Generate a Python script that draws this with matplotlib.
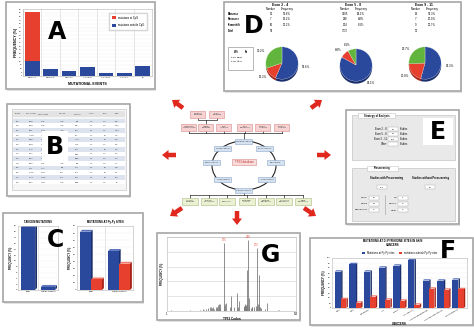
import numpy as np
import matplotlib
matplotlib.use("Agg")
import matplotlib.pyplot as plt
from matplotlib.patches import Rectangle, Polygon, Ellipse, FancyArrow

plt.rcParams["font.family"] = ["Liberation Sans", "DejaVu Sans"]

W, H = 474, 328
BLUE, BLUE_D, BLUE_L = "#2A489C", "#1A2F6C", "#5670BC"
RED, RED_D, RED_L = "#E8402F", "#A82318", "#F27A6C"
GREEN, GREEN_D = "#62B53C", "#3E7F22"
FRAME = "#A6A6A6"
GRID = "#DADADA"
ARROW = "#E0281E"

# ---- panel A: mutational events
events = ["G:C>A:T", "G:C>C:G", "G:C>T:A", "A:T>G:C", "A:T>C:G", "A:T>T:A", "Fs"]
at_cpg = [66, 0, 0, 0, 0, 0, 0]
outside_cpg = [20, 9.4, 6.7, 12.5, 3.6, 4.4, 13]

# ---- panel D: mutation types per exon group
exon_groups = ["Exon 2 - 4", "Exon 5 - 8", "Exon 9 - 11"]
mut_types = ["Missense", "Nonsense", "Frameshift"]
exon_counts = [[30, 7, 16], [3105, 328, 304], [19, 7, 9]]

# ---- panel B: table
b_header = ["Codon", "WT Codon", "Mut Codon", "WT aa", "Mut aa", "Type", "CpG", "Freq"]
b_rows = [
    ["175", "CGC", "CAC", "Arg", "His", "Ts", "Yes", "386"],
    ["248", "CGG", "CAG", "Arg", "Gln", "Ts", "Yes", "2026"],
    ["273", "CGT", "TGT", "Arg", "Cys", "Ts", "Yes", "1023"],
    ["249", "AGG", "AGT", "Arg", "Ser", "Tv", "No", "412"],
    ["245", "GGC", "GAC", "Gly", "Asp", "Ts", "No", "318"],
    ["282", "CGG", "TGG", "Arg", "Trp", "Ts", "Yes", "301"],
    ["220", "TAT", "TGT", "Tyr", "Cys", "Ts", "No", "244"],
    ["213", "CGA", "TGA", "Arg", "Stop", "Ts", "Yes", "212"],
    ["196", "CGA", "TGA", "Arg", "Stop", "Ts", "Yes", "190"],
    ["158", "CGC", "CAC", "Arg", "His", "Ts", "Yes", "157"],
    ["179", "CAT", "TAT", "His", "Tyr", "Ts", "No", "148"],
    ["176", "TGC", "TTC", "Cys", "Phe", "Tv", "No", "131"],
    ["163", "TAC", "TGC", "Tyr", "Cys", "Ts", "No", "122"],
    ["306", "CGA", "TGA", "Arg", "Stop", "Ts", "Yes", "98"],
]

# ---- panel C
c_groups = ["Skin", "Other Cancer"]
tandem = [21.5, 1.0]
pypy_at = [82, 55]
pypy_out = [15, 37]

# ---- panel F
f_cancers = ["BCC", "SCC", "Melanoma", "AK", "Bowen", "XP cancers",
             "Internal malignancies", "Sun-exposed tissues", "Other tumours"]
f_at = [73, 88, 73, 81, 85, 96, 55, 55, 57]
f_out = [18, 11, 23, 17, 15, 7, 39, 37, 38]

# ---- panel G: codon frequency (%)
g_codons = [13, 72, 100, 110, 113, 120, 126, 132, 135, 138, 141, 143, 151, 152, 154,
            157, 158, 159, 161, 163, 173, 175, 176, 179, 193, 195, 196, 205, 213, 214,
            216, 220, 234, 236, 237, 238, 241, 242, 244, 245, 248, 249, 250, 251, 255,
            258, 259, 266, 272, 273, 275, 276, 278, 280, 281, 282, 285, 286, 298, 306,
            337, 342]
g_freq = [0.1, 0.15, 0.1, 0.3, 0.2, 0.3, 0.4, 0.6, 0.5, 0.4, 0.5, 0.3, 0.6, 0.5, 0.4,
          0.8, 1.0, 0.6, 0.3, 0.9, 0.7, 9.2, 1.0, 1.1, 0.6, 0.5, 2.0, 0.5, 2.4, 0.4,
          0.6, 1.3, 0.7, 0.5, 0.9, 0.8, 0.7, 0.8, 0.9, 5.5, 9.6, 1.8, 0.5, 0.6, 0.4,
          0.6, 0.5, 0.6, 0.7, 8.5, 0.6, 0.3, 1.0, 0.8, 0.6, 4.9, 0.6, 0.4, 0.3, 1.1,
          0.2, 0.2]
g_hot = [175, 248, 273]


def rect(x0, y0, x1, y1):
    return [x0 / W, 1 - y1 / H, (x1 - x0) / W, (y1 - y0) / H]


def style(ax, fs=1.8):
    for s in ax.spines.values():
        s.set_color("#B5B5B5")
        s.set_linewidth(0.4)
    ax.tick_params(labelsize=fs, length=0, pad=0.8)
    ax.set_facecolor("white")
    ax.set_axisbelow(True)


def bar3d(ax, xs, hs, w, face, side, top, dx, dy):
    ax.bar(xs, hs, w, color=face, zorder=3)
    for x, h in zip(xs, hs):
        l, r = x - w / 2, x + w / 2
        ax.add_patch(Polygon([(r, 0), (r + dx, dy), (r + dx, h + dy), (r, h)],
                             closed=True, fc=side, ec="none", zorder=2))
        ax.add_patch(Polygon([(l, h), (l + dx, h + dy), (r + dx, h + dy), (r, h)],
                             closed=True, fc=top, ec="none", zorder=2))


fig = plt.figure(figsize=(W / 100, H / 100), dpi=100)
bg = fig.add_axes([0, 0, 1, 1])
bg.set_xlim(0, W)
bg.set_ylim(H, 0)
bg.axis("off")
bg.set_zorder(-1)


def frame(x0, y0, x1, y1, fc="white", ec=FRAME, lw=1.2, shadow=True):
    if shadow:
        bg.add_patch(Rectangle((x0 + 1.5, y0 + 1.5), x1 - x0, y1 - y0, fc="#E2E2E2", ec="none"))
    bg.add_patch(Rectangle((x0, y0), x1 - x0, y1 - y0, fc=fc, ec=ec, lw=lw))


def letter(x, y, s, box=False):
    kw = dict(fontsize=17, fontweight="bold", ha="center", va="center",
              family="DejaVu Sans", zorder=10)
    if box:
        kw["bbox"] = dict(fc="white", ec="none", pad=2.5)
    fig.text(x / W, 1 - y / H, s, **kw)


# ================= panel A =================
frame(6, 2, 155, 89)
axA = fig.add_axes(rect(23, 9, 152, 76))
xa = np.arange(len(events))
hb = axA.bar(xa, outside_cpg, 0.8, color=BLUE, zorder=3)
hr = axA.bar(xa, at_cpg, 0.8, bottom=outside_cpg, color=RED, zorder=3)
axA.set_xlim(-0.5, len(events) - 0.5)
axA.set_ylim(0, 90)
axA.set_yticks(range(0, 91, 5))
axA.set_xticks(xa, events)
axA.set_xticks(np.arange(-0.5, len(events), 1), minor=True)
style(axA, 1.6)
axA.tick_params(which="minor", length=0)
axA.grid(which="minor", axis="x", color=GRID, lw=0.5)
axA.grid(which="major", axis="y", color="#EEEEEE", lw=0.3)
axA.set_xlabel("MUTATIONAL EVENTS", fontsize=2.6, fontweight="bold", labelpad=1)
axA.set_ylabel("FREQUENCY (%)", fontsize=2.6, fontweight="bold", labelpad=1)
axA.legend([hr, hb], ["mutations at CpG", "mutations outside CpG"], loc="upper right",
           bbox_to_anchor=(0.97, 0.96), fontsize=1.9, frameon=True, edgecolor="#CCCCCC",
           fancybox=False, handlelength=1.6, handleheight=1.6, labelspacing=1.4,
           borderpad=1.0)
letter(57, 32, "A")

# ================= panel D =================
frame(224, 2, 461, 91)
col_x = [(271, 287), (345, 361), (416, 432)]
head_x = [280, 353, 424]
row_y = [14, 19.5, 25, 30.5]
for name, hx in zip(exon_groups, head_x):
    bg.text(hx, 5, name, fontsize=2.4, fontweight="bold", ha="center", va="center")
for lab, y in zip(mut_types + ["Total"], row_y):
    bg.text(228, y, lab, fontsize=1.8, fontweight="bold", ha="left", va="center")
for counts, (nx, fx) in zip(exon_counts, col_x):
    tot = sum(counts)
    bg.text(nx, 9, "Number", fontsize=2.0, ha="center", va="center")
    bg.text(fx, 9, "Frequency", fontsize=2.0, ha="center", va="center")
    for c, y in zip(counts, row_y):
        bg.text(nx, y, f"{c}", fontsize=2.0, ha="center", va="center")
        bg.text(fx, y, f"{100 * c / tot:.1f}%", fontsize=2.0, ha="center", va="center")
    bg.text(nx, row_y[3], f"{tot}", fontsize=2.0, ha="center", va="center")

pie_rects = [(260, 41, 304, 85), (334, 43, 378, 87), (403, 41, 447, 85)]
for counts, pr in zip(exon_counts, pie_rects):
    axp = fig.add_axes(rect(*pr))
    tot = sum(counts)
    axp.pie(counts, colors=[BLUE_D, RED_D, GREEN_D], startangle=90, counterclock=False,
            center=(0, -0.14), radius=0.92, wedgeprops=dict(lw=0))
    axp.pie(counts, colors=[BLUE, RED, GREEN], startangle=90, counterclock=False,
            radius=0.92, labels=[f"{100 * c / tot:.1f}%" for c in counts],
            labeldistance=1.28, textprops=dict(fontsize=2.1),
            wedgeprops=dict(lw=0.2, edgecolor="white"))
    axp.set_xlim(-1.25, 1.25)
    axp.set_ylim(-1.25, 1.25)
    axp.set_aspect("equal")
    axp.axis("off")

bg.add_patch(Rectangle((228, 47), 25, 23, fc="white", ec="#9A9A9A", lw=0.5))
bg.text(236, 52, "Wt", fontsize=2.0, fontweight="bold", ha="center", va="center")
bg.text(246, 52, "Fs", fontsize=2.0, fontweight="bold", ha="center", va="center")
bg.text(231, 57, "○ int   ■ int", fontsize=1.7, ha="left", va="center")
bg.text(231, 61, "○ off   □ off", fontsize=1.7, ha="left", va="center")
letter(254, 26, "D")

# ================= panel B =================
frame(7, 104, 130, 196)
bg.add_patch(Rectangle((12, 109), 114, 81, fc="#F5F5F5", ec="#C8C8C8", lw=0.5))
bcols = [18, 31, 43, 62, 77, 91, 105, 117]
bg.add_patch(Rectangle((13, 111), 112, 6, fc="#E3E3E3", ec="none"))
for x, h in zip(bcols, b_header):
    bg.text(x, 114, h, fontsize=1.5, ha="center", va="center", color="#444444")
for i, row in enumerate(b_rows):
    y = 121 + i * 4.7
    bg.add_patch(Rectangle((13, y - 2.35), 112, 4.7,
                           fc="#DCE3EE" if i % 2 == 0 else "white", ec="none"))
    for x, v in zip(bcols, row):
        bg.text(x, y, v, fontsize=1.5, ha="center", va="center", color="#333333")
letter(55, 147, "B", box=True)

# ================= center diagram =================
PINK_F, PINK_E = "#F7D2D2", "#D98A8A"
BL_F, BL_E = "#D5E2F1", "#8DA6C9"
GR_F, GR_E = "#EAF0D2", "#A9B97E"


def node(x, y, s, w, h, fc, ec, color="#333333", fs=1.5):
    bg.add_patch(Rectangle((x - w / 2, y - h / 2), w, h, fc=fc, ec=ec, lw=0.4, zorder=3))
    bg.text(x, y, s, fontsize=fs, ha="center", va="center", color=color, zorder=4,
            linespacing=0.9)


line_kw = dict(color="#222222", lw=0.5, zorder=2)
top_pair = [(198, "Tandem\nMutations"), (217, "Py-Py\nMutations")]
for x, s in top_pair:
    node(x, 114, s, 15, 7, PINK_F, PINK_E)
bg.plot([198, 198, 217, 217], [117.5, 120, 120, 117.5], **line_kw)
bg.plot([206, 206], [120, 123.5], **line_kw)
row6 = [(189, "Transition\nTransversion"), (206, "Ins/Del\nMutations"), (224, "CpG\nAnalysis"),
        (245, "Exon\nDistribution"), (263, "Hotspot\nAnalysis"), (282, "Deletion\nAnalysis")]
for x, s in row6:
    node(x, 127, s, 15, 7, PINK_F, PINK_E)
    bg.plot([x, x], [130.5, 133], **line_kw)
bg.plot([189, 282], [133, 133], **line_kw)
bg.plot([244, 244], [133, 138.5], **line_kw)

bg.add_patch(Ellipse((244, 165.5), 64, 49, fc="none", ec="#222222", lw=0.8, zorder=2))
ring = [(244, 141, "Mutation Analysis"), (223, 148, "Codon Analysis"),
        (265, 148, "Exon Analysis"), (212, 162, "Meta Analysis"),
        (276, 162, "Publications"), (223, 179, "Tumor Report"),
        (267, 179, "Global Report"), (244, 190, "Cancer Analysis")]
for x, y, s in ring:
    node(x, y, s, 17, 5, BL_F, BL_E)
node(244, 162, "TP53 database", 24, 6, "#F9DCDC", PINK_E, color="#C0302A", fs=2.0)

bg.plot([244, 244], [192.5, 195], **line_kw)
bot7 = [(190, "Ancient\nMutations"), (209, "Strategy\nof Analysis"), (227, "Frequency"),
        (247, "Mutational\nSpectra"), (266, "Mutation\nDistribution"),
        (284, "Cell Type\nDistribution"), (303, "Gene\nDistribution")]
bg.plot([190, 303], [195, 195], **line_kw)
for x, s in bot7:
    bg.plot([x, x], [195, 197.5], **line_kw)
    node(x, 201, s, 16, 7, GR_F, GR_E)

arrows = [(183, 108, -11, -8), (311, 108, 11, -8), (176, 155, -14, 0), (317, 155, 14, 0),
          (182, 208, -12, 8), (237, 211, 0, 14), (304, 208, 12, 8)]
for x, y, dx, dy in arrows:
    bg.add_patch(FancyArrow(x, y, dx, dy, width=4.5, head_width=10, head_length=6.5,
                            length_includes_head=True, fc=ARROW, ec="none", zorder=3))

# ================= panel E =================
frame(346, 110, 459, 224)
bg.add_patch(Rectangle((352, 115), 103, 45, fc="#E9E9E9", ec="#C4C4C4", lw=0.5))
bg.add_patch(Rectangle((358, 113), 37, 5, fc="white", ec="#C4C4C4", lw=0.4))
bg.text(376.5, 115.5, "Strategy of Analysis", fontsize=1.9, fontweight="bold",
        ha="center", va="center")
strat = [("Exon 2 - 8", "70"), ("Exon 5 - 8", "24"), ("Exon 2 - 11", "101"), ("Other", "")]
for i, (lab, v) in enumerate(strat):
    y = 129 + i * 5
    bg.text(387, y, lab, fontsize=1.8, ha="right", va="center")
    bg.add_patch(Rectangle((388, y - 1.8), 10, 3.6, fc="white", ec="#A8A8A8", lw=0.3))
    bg.text(393, y, v, fontsize=1.7, ha="center", va="center")
    bg.text(400, y, "Studies", fontsize=1.8, ha="left", va="center")
bg.add_patch(Rectangle((423, 118), 30, 27, fc="white", ec="none"))
letter(438, 132, "E")

bg.add_patch(Rectangle((352, 168), 103, 53, fc="#E9E9E9", ec="#C4C4C4", lw=0.5))
bg.add_patch(Rectangle((367, 166), 31, 5, fc="white", ec="#C4C4C4", lw=0.4))
bg.text(382.5, 168.5, "Prescreening", fontsize=1.9, fontweight="bold", ha="center", va="center")
bg.text(387, 178, "Studies with Prescreening", fontsize=1.9, fontweight="bold",
        ha="center", va="center")
bg.text(431, 178, "Studies without Prescreening", fontsize=1.9, fontweight="bold",
        ha="center", va="center")
for x, v in [(382, "114"), (430, "56")]:
    bg.add_patch(Rectangle((x - 5, 185.2), 10, 3.6, fc="white", ec="#A8A8A8", lw=0.3))
    bg.text(x, 187, v, fontsize=1.7, ha="center", va="center")
pre_left = [("SSCP", "50"), ("DGGE", "24"), ("Sequencing", "3")]
pre_right = [("HD", "4"), ("DHPLC", "3"), ("Other", "3")]
for i, ((la, va_), (lb, vb)) in enumerate(zip(pre_left, pre_right)):
    y = 198 + i * 6
    bg.text(368, y, la, fontsize=1.7, ha="right", va="center")
    bg.add_patch(Rectangle((369, y - 1.8), 10, 3.6, fc="white", ec="#A8A8A8", lw=0.3))
    bg.text(374, y, va_, fontsize=1.7, ha="center", va="center")
    bg.text(397, y, lb, fontsize=1.7, ha="right", va="center")
    bg.add_patch(Rectangle((398, y - 1.8), 10, 3.6, fc="white", ec="#A8A8A8", lw=0.3))
    bg.text(403, y, vb, fontsize=1.7, ha="center", va="center")
bg.plot([385, 385], [195, 214], color="#999999", lw=0.4)

# ================= panel C =================
frame(3, 213, 143, 302)
axC1 = fig.add_axes(rect(18, 226, 58, 290))
xc = np.arange(len(c_groups))
bar3d(axC1, xc, tandem, 0.72, BLUE, BLUE_D, BLUE_L, 0.09, 0.7)
axC1.set_xlim(-0.5, 1.5)
axC1.set_ylim(0, 22)
axC1.set_yticks(range(0, 23, 2))
axC1.set_xticks(xc, c_groups)
style(axC1, 1.7)
axC1.axvline(0.5, color=GRID, lw=0.5, zorder=1)
axC1.grid(axis="y", color="#EEEEEE", lw=0.3)
axC1.set_ylabel("FREQUENCY (%)", fontsize=2.0, fontweight="bold", labelpad=1)
axC1.set_title("TANDEM MUTATIONS", fontsize=2.0, fontweight="bold", pad=2)

axC2 = fig.add_axes(rect(77, 226, 133, 290))
bar3d(axC2, xc - 0.2, pypy_at, 0.38, BLUE, BLUE_D, BLUE_L, 0.07, 2.6)
bar3d(axC2, xc + 0.2, pypy_out, 0.38, RED, RED_D, RED_L, 0.07, 2.6)
axC2.set_xlim(-0.5, 1.5)
axC2.set_ylim(0, 90)
axC2.set_yticks(range(0, 91, 10))
axC2.set_xticks(xc, c_groups)
style(axC2, 1.7)
axC2.axvline(0.5, color=GRID, lw=0.5, zorder=1)
axC2.grid(axis="y", color="#EEEEEE", lw=0.3)
axC2.set_ylabel("FREQUENCY (%)", fontsize=2.0, fontweight="bold", labelpad=1)
axC2.set_title("MUTATIONS AT Py-Py SITES", fontsize=2.0, fontweight="bold", pad=2)
letter(56, 240, "C")

# ================= panel G =================
frame(157, 233, 300, 320)
axG = fig.add_axes(rect(167, 237, 296, 311))
axG.vlines(g_codons, 0, g_freq, color="#7D7D7D", lw=0.6, zorder=3)
for c in g_hot:
    axG.text(c, g_freq[g_codons.index(c)] + 0.15, str(c), color=RED, fontsize=2.0,
             ha="center", va="bottom")
axG.set_xlim(1, 393)
axG.set_ylim(0, 10)
axG.set_xticks([1, 393], ["1", "393"])
axG.set_yticks(range(0, 11, 2))
style(axG, 1.8)
axG.set_yticklabels([])
axG.grid(axis="y", color=GRID, lw=0.5)
axG.set_xlabel("TP53 Codon", fontsize=2.2, fontweight="bold", labelpad=0.5)
axG.set_ylabel("FREQUENCY (%)", fontsize=2.0, fontweight="bold", labelpad=1)
letter(271, 255, "G")

# ================= panel F =================
frame(310, 238, 473, 325)
bg.text(393, 241, "MUTATIONS AT DI-PYRIMIDINE SITES IN SKIN", fontsize=2.0,
        fontweight="bold", ha="center", va="center")
bg.text(393, 245.5, "CANCERS", fontsize=2.0, fontweight="bold", ha="center", va="center")
axF = fig.add_axes(rect(332, 258, 467, 308))
xf = np.arange(len(f_cancers))
bar3d(axF, xf - 0.2, f_at, 0.44, BLUE, BLUE_D, BLUE_L, 0.1, 2.5)
bar3d(axF, xf + 0.2, f_out, 0.36, RED, RED_D, RED_L, 0.1, 2.5)
axF.set_xlim(-0.6, len(f_cancers) - 0.4)
axF.set_ylim(0, 100)
axF.set_yticks(range(0, 101, 10))
axF.set_xticks(xf, f_cancers, rotation=30, ha="right")
style(axF, 1.6)
axF.grid(axis="y", color="#EEEEEE", lw=0.3)
axF.set_xlabel("CANCERS", fontsize=2.2, fontweight="bold", labelpad=1)
axF.set_ylabel("FREQUENCY (%)", fontsize=2.2, fontweight="bold", labelpad=1)
hfb = Rectangle((0, 0), 1, 1, fc=BLUE)
hfr = Rectangle((0, 0), 1, 1, fc=RED)
axF.legend([hfb, hfr], ["Mutations at Py-Py sites", "mutations outside Py-Py sites"],
           ncol=2, loc="lower center", bbox_to_anchor=(0.5, 1.02), fontsize=1.8,
           frameon=False, handlelength=1.0, handleheight=1.0, columnspacing=2.0)
letter(448, 251, "F")

fig.savefig("out.png", dpi=100, facecolor="white")
